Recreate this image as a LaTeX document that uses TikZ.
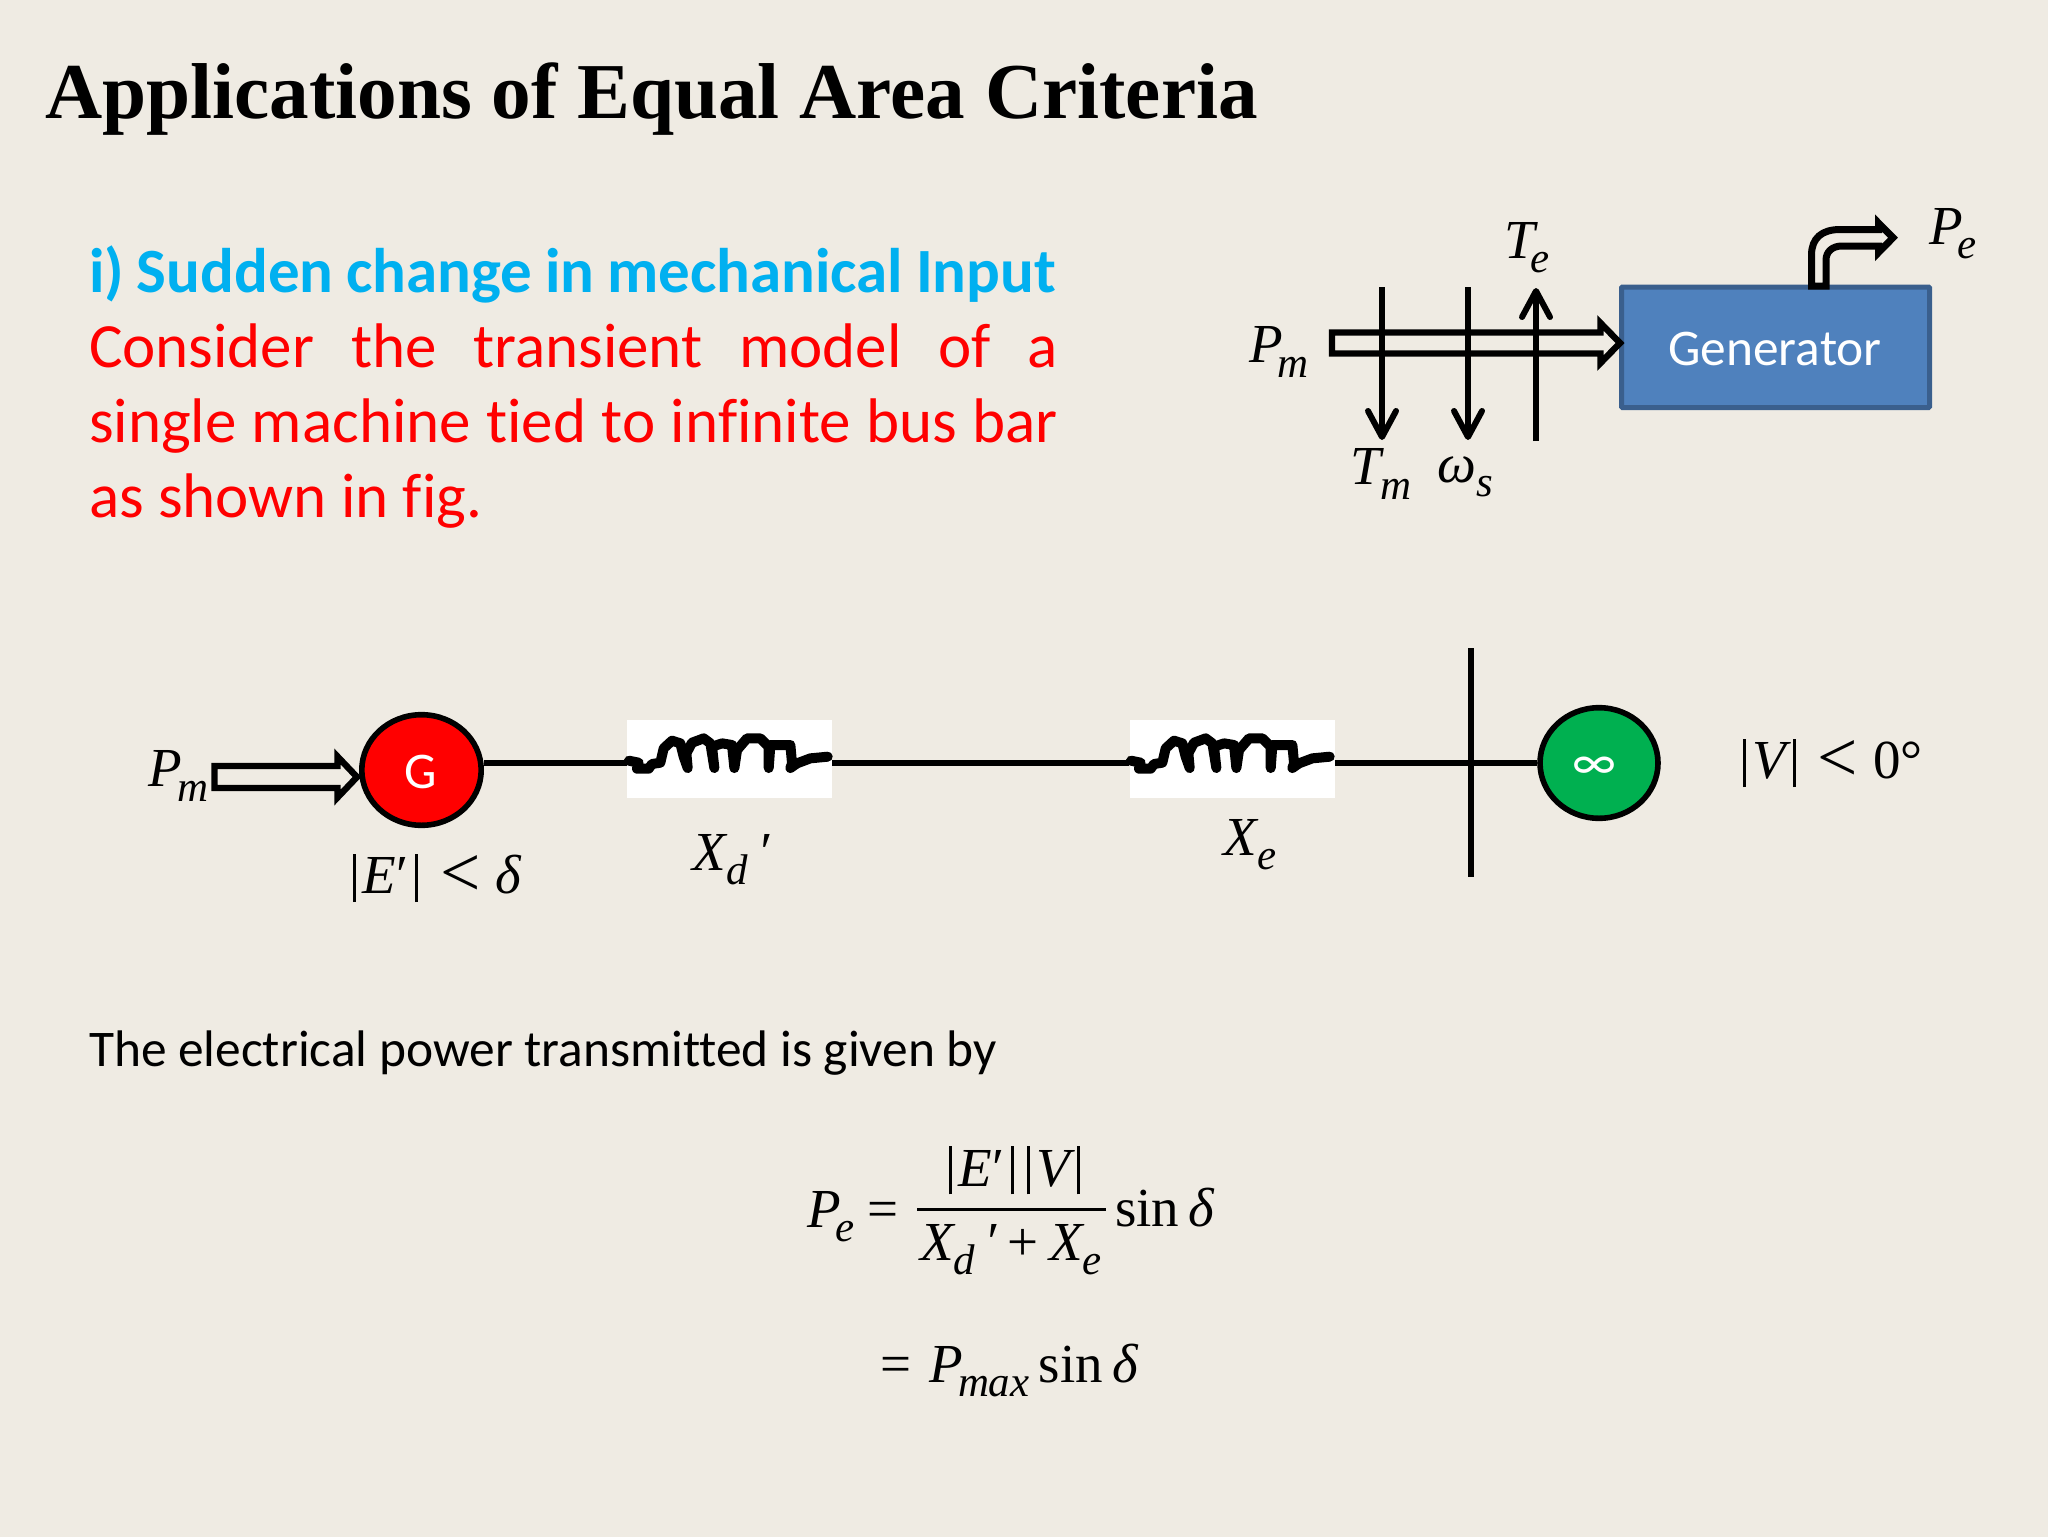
\documentclass[tikz,border=0pt]{standalone}
\usepackage{fontspec}
\usetikzlibrary{arrows.meta,shapes.geometric}
\setmainfont[Ligatures=CommonOff]{Carlito}
\newfontfamily\eqfont{Liberation Serif}
\newfontfamily\titlefont{Liberation Serif}
\newcommand\mv[1]{{\itshape #1}}
\newcommand\sbx[1]{\raisebox{-0.26em}{\scalebox{0.78}{\itshape #1}}}
\newcommand\pkern{\hspace{-0.09em}}
\newcommand\vbr{\hspace{0.12em}\rule[-0.15em]{0.055em}{0.88em}\hspace{0.12em}}
\newcommand\lessgap{\hspace{0.28em}\raisebox{-0.05em}{\scalebox{1.3}{<}}\hspace{0.28em}}
\definecolor{bgc}{HTML}{EFEBE3}
\definecolor{genfill}{HTML}{4F81BD}
\definecolor{genedge}{HTML}{3A5F8D}
\definecolor{headblue}{HTML}{00B0F0}
\definecolor{gengreen}{HTML}{00B050}
\tikzset{
  txt/.style={inner sep=0pt,outer sep=0pt,anchor=base west},
  eq/.style={inner sep=0pt,outer sep=0pt,anchor=base,font=\fontsize{27.5}{32}\selectfont\eqfont},
  blockarrow/.style={draw=black,line width=3.2pt,miter limit=10,line join=miter},
  thinarrow/.style={draw=black,line width=3pt,-{Straight Barb[length=13pt,width=14pt,line width=3pt,round]}},
  plainline/.style={draw=black,line width=3pt},
  wire/.style={draw=black,line width=2.6pt},
  coilbox/.style={fill=white,inner sep=0pt,minimum width=102.5pt,minimum height=39pt},
  coilshape/.pic={
    \draw[line width=5pt,line join=round,line cap=round,x=0.1667pt,y=-0.1667pt]
      (6,122)--(35,128)--(30,146)--(65,146)--(75,132)--(100,128)--(110,85)--(135,62)--(160,70)--(170,110)--(182,144)
      --(178,100)--(195,68)--(230,55)--(250,70)--(262,144)--(255,80)--(285,70)--(315,75)--(322,144)--(330,90)
      --(360,55)--(400,55)--(425,80)--(425,144)--(430,75)--(490,75)--(495,130)--(490,144)--(510,130)--(550,115)--(602,110);
  }
}
\begin{document}
\begin{tikzpicture}[x=0.5pt,y=-0.5pt]
\fill[bgc,overlay] (-10,-10) rectangle (2058,1546);
\path[use as bounding box] (0,0) rectangle (2048,1536);

% title and text
\node[txt,font=\fontsize{39.6}{44}\selectfont\titlefont\bfseries] (title) at (45,119) {Applications of Equal Area Criteria};
\node[txt,text=headblue,font=\fontsize{31.5}{36}\selectfont\bfseries] (head) at (89,292) {\makebox[483.5pt][s]{i) Sudden change in mechanical Input}};
\node[txt,text=red,font=\fontsize{31.5}{36}\selectfont] (l1) at (89,367) {\makebox[484.5pt][s]{Consider the transient model of a}};
\node[txt,text=red,font=\fontsize{31.5}{36}\selectfont] (l2) at (89,442) {\makebox[484.5pt][s]{single machine tied to infinite bus bar}};
\node[txt,text=red,font=\fontsize{31.5}{36}\selectfont] (l3) at (89,517) {as shown in fig.};
\node[txt,font=\fontsize{25.7}{30}\selectfont] (given) at (89,1066) {The electrical power transmitted is given by};

% generator block
\node[draw=genedge,fill=genfill,line width=2.5pt,minimum width=154pt,minimum height=60.25pt,inner sep=0pt,rounded corners=0.5pt] (gen) at (1775.5,347.25) {};
\node[text=white,inner sep=0pt,font=\fontsize{25.7}{30}\selectfont] (gentext) at (1775,349) {Generator};

% Pm block arrow (top)
\draw[blockarrow] (1332,332.5)--(1600.5,332.5)--(1600.5,323)--(1620,343)--(1600.5,363)--(1600.5,353.5)--(1332,353.5)--cycle;

% torque arrows
\coordinate (tma) at (1382,287); \coordinate (tmb) at (1382,440);
\coordinate (wsa) at (1468,287); \coordinate (wsb) at (1468,440);
\coordinate (tea) at (1536,441); \coordinate (teb) at (1536,288);
\draw[thinarrow] (tma)--(tmb);
\draw[thinarrow] (wsa)--(wsb);
\draw[thinarrow] (tea)--(teb);

% Pe bent block arrow
\draw[blockarrow,line width=3.5pt,line join=miter]
  (1811.5,286)--(1811.5,255) .. controls (1811.5,238) and (1822,229.5) .. (1840,229.5)
  --(1878.5,229.5)--(1878.5,223)--(1893,237.7)--(1878.5,252.5)--(1878.5,246)
  --(1842,246) .. controls (1832,246) and (1826,252) .. (1826,260)--(1826,286)--cycle;

% labels, upper right
\begin{scope}[every node/.style={eq,anchor=center}]
\node (lpe) at (1953,234) {\mv{P}\pkern\sbx{e}};
\node (lte) at (1527,248) {\mv{T}\pkern\sbx{e}};
\node (lpm) at (1279,352) {\mv{P}\pkern\sbx{m}};
\node (ltm) at (1381,474) {\mv{T}\sbx{m}};
\node (lws) at (1465,477) {\mv{ω}\sbx{s}};
\end{scope}

% single line diagram
\coordinate (wy) at (0,763);
\node[coilbox] (xd) at (729.5,759) {};
\node[coilbox] (xe) at (1232,759) {};
\pic at (627,720) {coilshape};
\pic at (1129,720) {coilshape};
\node[ellipse,draw=black,fill=red,line width=2.8pt,minimum width=59.7pt,minimum height=55.3pt,inner sep=0pt] (G) at (421.5,770) {};
\node[ellipse,draw=black,fill=gengreen,line width=2.8pt,minimum width=59pt,minimum height=55.3pt,inner sep=0pt] (inf) at (1599,763) {};
\node[text=white,inner sep=0pt,font=\fontsize{25.7}{30}\selectfont] (glabel) at (421,772) {G};
\node[text=white,inner sep=0pt,font=\fontsize{25.7}{30}\selectfont] (inflabel) at (1594,768) {∞};
\draw[wire] (G.east|-wy)--(xd.west|-wy);
\draw[wire] (xd.east|-wy)--(xe.west|-wy);
\draw[wire] (xe.east|-wy)--(inf.west);
\coordinate (bt) at (1471,648); \coordinate (bb) at (1471,877);
\draw[plainline] (bt)--(bb);

% Pm block arrow (left)
\draw[blockarrow] (214.5,766)--(337.5,766)--(337.5,756.5)--(357,777)--(337.5,797.5)--(337.5,788)--(214.5,788)--cycle;

\begin{scope}[every node/.style={eq,anchor=center}]
\node (lpm2) at (178.5,776) {\mv{P}\pkern\sbx{m}};
\node (le) at (434,878) {\vbr\mv{E}′\vbr\lessgap\mv{δ}};
\node (lxd) at (731,860) {\mv{X}\sbx{d}\,\mv{′}};
\node (lxe) at (1250,845) {\mv{X}\sbx{e}};
\node (lv) at (1829.5,763) {\vbr\mv{V}\vbr\lessgap 0°};
\end{scope}

% equations
\node[eq,anchor=base west] (pe) at (807,1227) {\mv{P}\pkern\sbx{e}};
\node[eq] (eq1) at (883,1227) {=};
\node[eq] (num) at (1011,1186) {\vbr\mv{E}′\vbr\vbr\mv{V}\vbr};
\node[eq] (den) at (1011,1260) {\mv{X}\sbx{d}\,\mv{′}\hspace{0.2em}+\hspace{0.2em}\mv{X}\sbx{e}};
\coordinate (fa) at (917,1209); \coordinate (fb) at (1106,1209);
\draw[line width=1.5pt] (fa)--(fb);
\node[eq,anchor=base west] (sin1) at (1115,1226) {sin\,\mv{δ}};
\node[eq,anchor=base west] (eq2) at (880,1382) {=\,\,\mv{P}\pkern\sbx{max}\,sin\,\mv{δ}};
\end{tikzpicture}
\end{document}
